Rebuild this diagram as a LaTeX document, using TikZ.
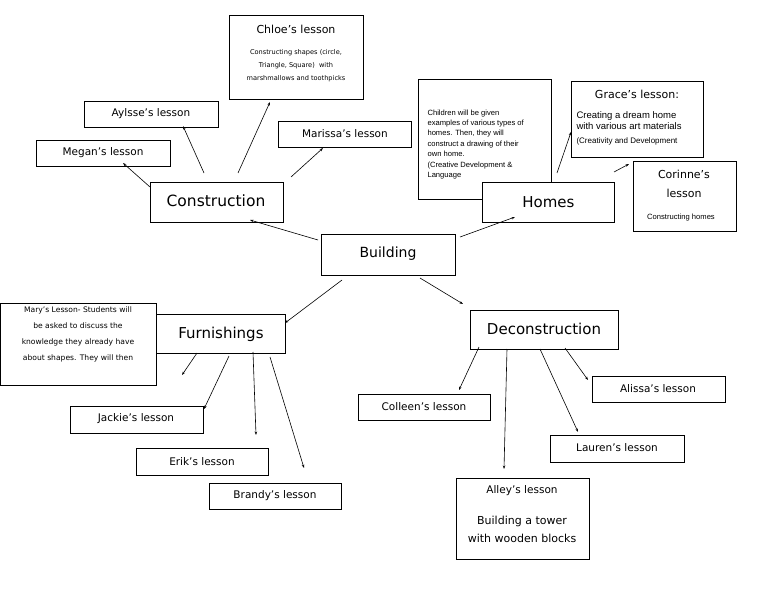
\documentclass[tikz,border=0pt]{standalone}
\usepackage{fontspec}
\setmainfont{DejaVu Sans}
\newfontfamily\arialf{Liberation Sans}
\usetikzlibrary{arrows.meta}
\begin{document}
\begin{tikzpicture}[x=1pt,y=-1pt,
 bx/.style={draw,line width=0.9pt,anchor=north west,inner sep=2pt,align=center},
 ar/.style={line width=0.6pt,-{Stealth[length=3.5pt,width=2.5pt]}}]
\useasboundingbox (0,0) rectangle (768,594);
\newcommand{\B}[6]{\node[bx,minimum width=#3-#1,minimum height=#4-#2,font=#5] (#6) at (#1,#2) {};}
% boxes
\B{229}{15}{363}{99}{}{chloe}
\node[font=\fontsize{11}{13}\selectfont] at (296,29) {Chloe's lesson};
\node[font=\fontsize{6.6}{13}\selectfont,align=center] at (296,66) {Constructing shapes (circle,\\Triangle, Square)\ \ with\\marshmallows and toothpicks};
\B{84}{101}{218}{127}{}{aylsse}\node[font=\fontsize{10.5}{12}\selectfont] at (151,114) {Aylsse's lesson};
\B{36}{140}{170}{166}{}{megan}\node[font=\fontsize{10.5}{12}\selectfont] at (103,153) {Megan's lesson};
\B{278}{121}{411}{147}{}{marissa}\node[font=\fontsize{10.5}{12}\selectfont] at (345,134) {Marissa's lesson};
\B{150}{182}{283}{222}{}{cons}\node[font=\fontsize{15.5}{18}\selectfont] at (216,201) {Construction};
\B{418}{79}{551}{199}{}{child}
\node[font=\arialf\fontsize{7.6}{10.4}\selectfont,align=left,anchor=north west] at (424,106) {Children will be given\\examples of various types of\\homes. Then, they will\\construct a drawing of their\\own home.\\(Creative Development \&\\Language};
\node[bx,fill=white,minimum width=132,minimum height=40,font=\fontsize{15}{18}\selectfont] (homes) at (482,182) {Homes};
\B{571}{81}{703}{157}{}{grace}
\node[font=\fontsize{11}{13}\selectfont] at (637,94) {Grace's lesson:};
\node[font=\arialf\fontsize{9.5}{11}\selectfont,align=left,anchor=north west] at (573,108) {Creating a dream home\\with various art materials};
\node[font=\arialf\fontsize{8}{10}\selectfont,anchor=north west] at (573,134) {(Creativity and Development};
\B{633}{161}{736}{231}{}{cor}
\node[font=\fontsize{11}{19}\selectfont,align=center] at (684,184) {Corinne's\\lesson};
\node[font=\arialf\fontsize{7.6}{10}\selectfont] at (681,218) {Constructing homes};
\B{321}{234}{455}{275}{}{bld}\node[font=\fontsize{14}{17}\selectfont] at (388,254) {Building};
\B{0}{303}{156}{385}{}{mary}
\node[font=\fontsize{7.6}{16}\selectfont,align=center] at (78,334) {Mary's Lesson- Students will\\be asked to discuss the\\knowledge they already have\\about shapes. They will then};
\node[bx,fill=white,minimum width=129,minimum height=39,font=\fontsize{15}{18}\selectfont] (furn) at (156,314) {Furnishings};
\B{70}{406}{203}{433}{}{jack}\node[font=\fontsize{10.5}{12}\selectfont] at (136,419) {Jackie's lesson};
\B{136}{448}{268}{475}{}{erik}\node[font=\fontsize{10.5}{12}\selectfont] at (202,462) {Erik's lesson};
\B{209}{483}{341}{509}{}{brandy}\node[font=\fontsize{10.5}{12}\selectfont] at (275,496) {Brandy's lesson};
\B{470}{310}{618}{349}{}{dec}\node[font=\fontsize{15}{18}\selectfont] at (544,329) {Deconstruction};
\B{358}{394}{490}{420}{}{coll}\node[font=\fontsize{10.5}{12}\selectfont] at (424,407) {Colleen's lesson};
\B{592}{376}{725}{402}{}{ali}\node[font=\fontsize{10.5}{12}\selectfont] at (658,389) {Alissa's lesson};
\B{550}{435}{684}{462}{}{laur}\node[font=\fontsize{10.5}{12}\selectfont] at (617,448) {Lauren's lesson};
\B{456}{478}{589}{559}{}{alley}
\node[font=\fontsize{10.5}{12}\selectfont] at (522,491) {Alley's lesson};
\node[font=\fontsize{11}{18}\selectfont,align=center] at (522,529) {Building a tower\\with wooden blocks};
% arrows
\draw[ar] (318,240) -- (250,220);
\draw[ar] (460,237) -- (515,217);
\draw[ar] (342,280) -- (285,323);
\draw[ar] (420,278) -- (463,304);
\draw[ar] (150,187) -- (123,163);
\draw[ar] (204,173) -- (183,126);
\draw[ar] (238,173) -- (270,102);
\draw[ar] (291,177) -- (323,148);
\draw[ar] (557,173) -- (571,132);
\draw[ar] (614,172) -- (629,164);
\draw[ar] (197,353) -- (182,375);
\draw[ar] (229,356) -- (204,409);
\draw[ar] (253,352) -- (256,435);
\draw[ar] (270,357) -- (304,468);
\draw[ar] (479,347) -- (459,390);
\draw[ar] (507,349) -- (504,469);
\draw[ar] (540,349) -- (578,432);
\draw[ar] (565,348) -- (588,380);
\end{tikzpicture}
\end{document}
